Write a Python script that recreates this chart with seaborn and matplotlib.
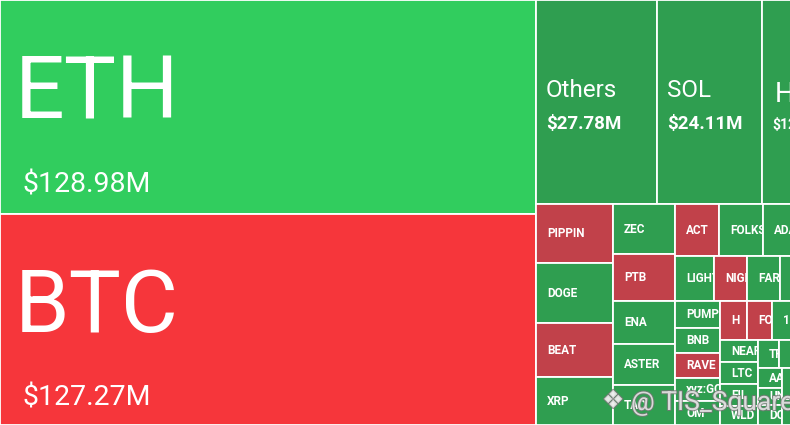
import matplotlib
matplotlib.use("Agg")
import matplotlib.pyplot as plt
import matplotlib.patches as mpatches
import matplotlib.patheffects as pe
import seaborn as sns

# data ($M traded); labels on the cut-off right edge are blank
names = ["ETH", "BTC",
         "Others", "SOL", "HYPE",
         "PIPPIN", "DOGE", "BEAT", "XRP",
         "ZEC", "PTB", "ENA", "ASTER", "TAO",
         "ACT", "FOLKS", "ADA",
         "LIGHT", "NIGHT", "FARTCOIN", "",
         "PUMP", "BNB", "RAVE", "xyz:GOLD", "OM",
         "H", "FORM", "1000PEPE",
         "NEAR", "LTC", "FIL", "WLD",
         "TRX", "",
         "AAVE", "UNI", "DOT",
         "", ""]
values = [128.98, 127.27,
          27.78, 24.11, 12.62,
          5.11, 5.20, 4.68, 4.16,
          3.49, 3.28, 3.00, 2.86, 2.79,
          2.57, 2.57, 3.17,
          1.97, 1.67, 1.67, 1.87,
          1.37, 1.27, 1.27, 1.16, 1.21,
          1.18, 1.10, 1.97,
          0.94, 0.94, 0.94, 0.81,
          0.66, 1.20,
          0.54, 0.46, 0.54,
          1.20, 1.04]
up = [True, False,
      True, True, True,
      False, True, False, True,
      True, False, True, True, True,
      False, True, True,
      True, False, True, True,
      True, True, False, True, True,
      False, False, True,
      True, True, True, True,
      True, True,
      True, True, True,
      True, True]

# how the treemap is sliced: (direction, number of tiles)
strips = [("col", 2), ("row", 3), ("col", 4), ("col", 5), ("row", 3), ("row", 4),
          ("col", 5), ("row", 3), ("col", 4), ("row", 2), ("col", 3), ("col", 2)]

CANVAS_H = 425
PX_PER_M = 889  # px^2 per $M


def squarify_strips(vals, strips, height, scale):
    width = sum(vals) * scale / height
    x0, y0, x1 = 0.0, 0.0, width
    rects = []
    i = 0
    for direction, n in strips:
        chunk = vals[i:i + n]
        area = sum(chunk) * scale
        if direction == "col":
            w = area / (height - y0)
            y = y0
            for v in chunk:
                h = v * scale / w
                rects.append((x0, y, w, h))
                y += h
            x0 += w
        else:
            h = area / (x1 - x0)
            x = x0
            for v in chunk:
                w = v * scale / h
                rects.append((x, y0, w, h))
                x += w
            y0 += h
        i += n
    return rects


sns.set_theme(style="white")
plt.rcParams['font.family'] = ['Roboto', 'DejaVu Sans']

fig = plt.figure(figsize=(7.9, 4.25), dpi=100)
ax = fig.add_axes([0, 0, 1, 1])
ax.set_xlim(0, 790)
ax.set_ylim(CANVAS_H, 0)
ax.axis("off")

bright = {True: "#31cd5e", False: "#f6363b"}
dark = {True: "#2f9e50", False: "#c1414a"}

rects = squarify_strips(values, strips, CANVAS_H, PX_PER_M)

for i, (x, y, w, h) in enumerate(rects):
    color = bright[up[i]] if i < 2 else dark[up[i]]
    box = mpatches.Rectangle((x, y), w, h, facecolor=color, edgecolor="white", linewidth=1.3)
    ax.add_patch(box)
    name = names[i]
    if not name:
        continue
    if i < 2:
        t1 = ax.text(x + 15, y + 118, name, fontsize=63, color="white", va="baseline")
        t2 = ax.text(x + 22, y + 192, f"${values[i]:.2f}M", fontsize=20.5, color="white", va="baseline")
        texts = [t1, t2]
    elif i < 5:
        big = name == "HYPE"
        t1 = ax.text(x + (13 if big else 10), y + (102 if big else 97), name,
                     fontsize=20 if big else 17.5, color="white", va="baseline")
        t2 = ax.text(x + 10, y + 129, f"${values[i]:.2f}M",
                     fontsize=10 if big else 13.5, weight="semibold", color="white", va="baseline")
        texts = [t1, t2]
    else:
        t1 = ax.text(x + 11, y + h / 2, name, fontsize=8.5, weight="bold", color="white", va="center")
        texts = [t1]
    for t in texts:
        t.set_clip_on(True)
        t.set_clip_path(box)

# watermark
ax.text(602, 401, "\u2756", fontsize=18, color="#eeeeee", alpha=0.8, va="center",
        family="DejaVu Sans",
        path_effects=[pe.withStroke(linewidth=1.5, foreground="#777777")])
ax.text(631, 410, "@ TIS_Square", fontsize=19, color="#eeeeee", alpha=0.8, va="baseline",
        path_effects=[pe.withStroke(linewidth=1.5, foreground="#777777")])

fig.savefig("out.png", dpi=100)
